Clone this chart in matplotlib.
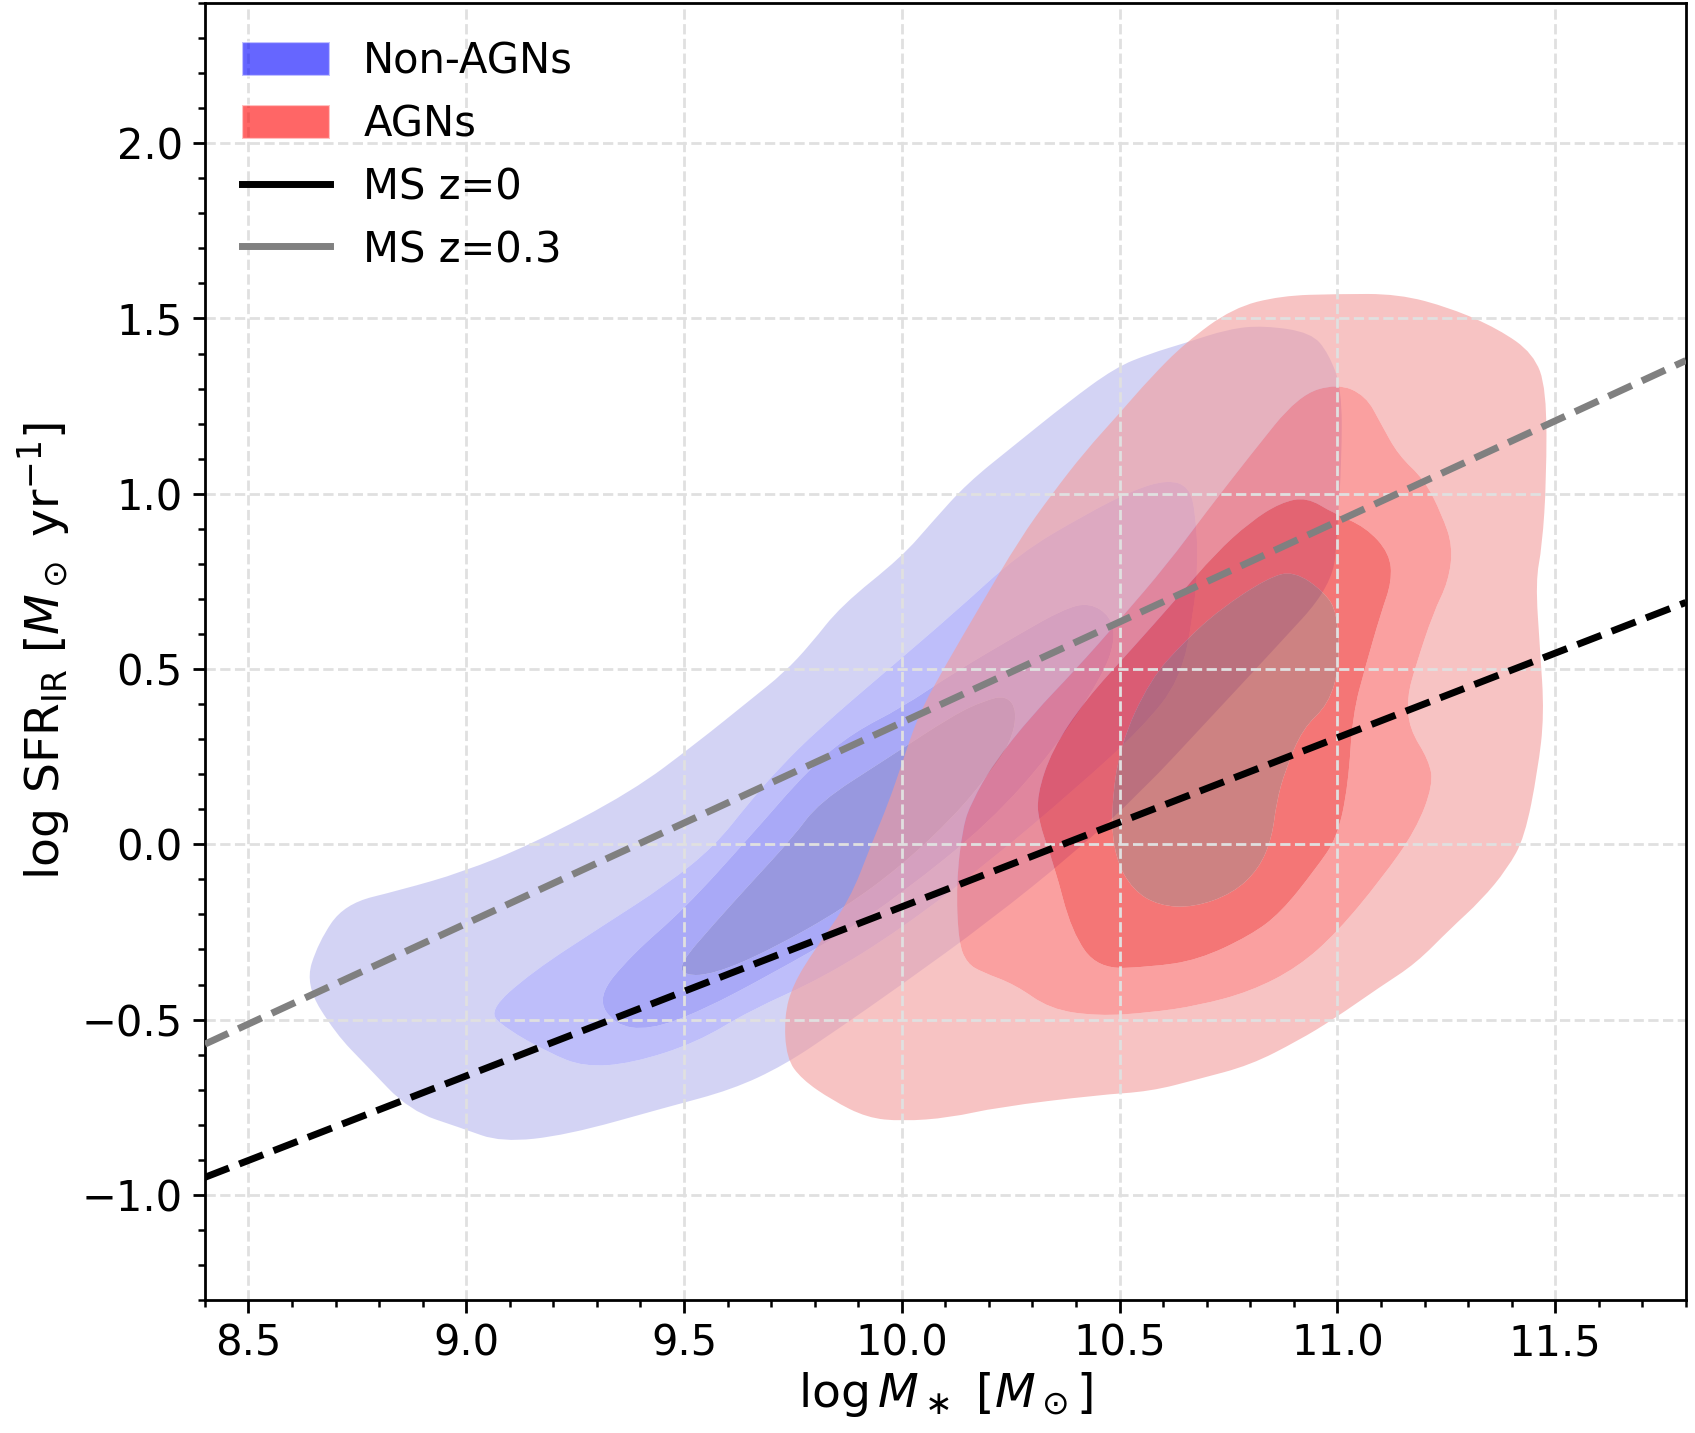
import numpy as np
import matplotlib
matplotlib.use("Agg")
import matplotlib.pyplot as plt
from matplotlib.path import Path
from matplotlib.patches import PathPatch, Patch
from matplotlib.lines import Line2D
from matplotlib.ticker import MultipleLocator

#- KDE contour outlines: (log M*, log SFR_IR), outer -> inner
non_agn_1 = [(8.63, -0.40), (8.66, -0.28), (8.72, -0.17), (8.85, -0.13), (8.99, -0.08),
             (9.15, 0.00), (9.38, 0.15), (9.53, 0.29), (9.65, 0.41), (9.73, 0.49),
             (9.79, 0.57), (9.86, 0.68), (10.0, 0.82), (10.07, 0.92), (10.15, 1.03),
             (10.26, 1.14), (10.38, 1.26), (10.49, 1.36), (10.57, 1.40), (10.65, 1.43),
             (10.75, 1.47), (10.83, 1.48), (10.94, 1.46), (10.98, 1.40), (11.01, 1.30),
             (11.01, 1.10), (11.0, 0.90), (10.99, 0.74), (10.85, 0.55), (10.70, 0.35),
             (10.55, 0.15), (10.40, -0.02), (10.2, -0.22), (10.0, -0.40), (9.85, -0.53),
             (9.73, -0.63), (9.61, -0.70), (9.46, -0.75), (9.23, -0.83), (9.08, -0.85),
             (8.99, -0.81), (8.87, -0.76), (8.77, -0.63), (8.70, -0.54)]
non_agn_2 = [(9.05, -0.475), (9.15, -0.365), (9.31, -0.235), (9.46, -0.115), (9.57, -0.005),
             (9.65, 0.12), (9.72, 0.22), (9.81, 0.33), (9.96, 0.49), (10.12, 0.66),
             (10.27, 0.83), (10.42, 0.94), (10.53, 1.01), (10.61, 1.04), (10.66, 1.02),
             (10.675, 0.94), (10.68, 0.80), (10.67, 0.66), (10.64, 0.47),
             (10.55, 0.33), (10.40, 0.16), (10.2, -0.05), (10.0, -0.24), (9.82, -0.38),
             (9.65, -0.475), (9.53, -0.565), (9.38, -0.625), (9.27, -0.635), (9.19, -0.595),
             (9.09, -0.525)]
non_agn_3 = [(9.30, -0.435), (9.38, -0.315), (9.50, -0.185), (9.65, 0.02), (9.79, 0.22),
             (9.89, 0.32), (10.0, 0.39), (10.12, 0.49), (10.27, 0.60), (10.37, 0.67),
             (10.43, 0.69), (10.48, 0.65), (10.49, 0.58), (10.46, 0.48), (10.35, 0.27),
             (10.2, 0.06), (10.0, -0.14), (9.87, -0.25), (9.70, -0.37), (9.54, -0.475),
             (9.42, -0.53), (9.34, -0.515)]
non_agn_4 = [(9.49, -0.34), (9.57, -0.225), (9.65, -0.115), (9.75, 0.02), (9.81, 0.12),
             (9.96, 0.24), (10.12, 0.37), (10.19, 0.41), (10.24, 0.425), (10.265, 0.38),
             (10.25, 0.29), (10.2, 0.20), (10.12, 0.08), (10.0, -0.06), (9.87, -0.18),
             (9.70, -0.30), (9.57, -0.37), (9.50, -0.375)]

agn_1 = [(10.65, 1.43), (10.76, 1.53), (10.87, 1.565), (11.0, 1.57), (11.14, 1.57),
         (11.26, 1.53), (11.37, 1.47), (11.45, 1.40), (11.48, 1.30), (11.48, 1.04),
         (11.47, 0.85), (11.455, 0.75), (11.465, 0.56), (11.475, 0.37), (11.46, 0.21),
         (11.43, 0.02), (11.39, -0.07), (11.33, -0.16), (11.26, -0.24), (11.18, -0.34),
         (11.10, -0.405), (10.99, -0.50), (10.91, -0.56), (10.80, -0.63), (10.68, -0.67),
         (10.57, -0.705), (10.45, -0.715), (10.22, -0.75), (10.11, -0.78), (10.0, -0.79),
         (9.92, -0.78), (9.84, -0.73), (9.77, -0.67), (9.735, -0.61), (9.73, -0.49),
         (9.75, -0.40), (9.80, -0.30), (9.88, -0.16), (9.93, 0.0), (9.97, 0.12),
         (10.0, 0.23), (10.04, 0.375), (10.10, 0.51), (10.18, 0.68), (10.27, 0.87),
         (10.345, 1.0), (10.42, 1.12), (10.50, 1.23), (10.57, 1.33)]
agn_2 = [(10.91, 1.28), (11.0, 1.315), (11.065, 1.28), (11.10, 1.20), (11.14, 1.11),
         (11.20, 1.04), (11.24, 0.94), (11.265, 0.85), (11.255, 0.75), (11.22, 0.66),
         (11.18, 0.51), (11.16, 0.42), (11.165, 0.33), (11.21, 0.24), (11.22, 0.17),
         (11.18, 0.04), (11.10, -0.10), (11.0, -0.25), (10.91, -0.35), (10.80, -0.42),
         (10.68, -0.46), (10.57, -0.48), (10.45, -0.49), (10.34, -0.47), (10.26, -0.40),
         (10.185, -0.365), (10.15, -0.34), (10.13, -0.28), (10.125, -0.11), (10.14, 0.05),
         (10.16, 0.12), (10.21, 0.23), (10.30, 0.37), (10.40, 0.50), (10.50, 0.64),
         (10.61, 0.80), (10.70, 0.95), (10.80, 1.11)]
agn_3 = [(10.87, 0.975), (10.93, 0.99), (10.99, 0.945), (11.065, 0.905), (11.12, 0.83),
         (11.125, 0.75), (11.10, 0.66), (11.065, 0.51), (11.035, 0.37), (11.025, 0.17),
         (11.0, 0.02), (10.95, -0.07), (10.87, -0.195), (10.80, -0.26), (10.68, -0.33),
         (10.57, -0.35), (10.45, -0.355), (10.39, -0.25), (10.35, -0.06), (10.315, 0.06),
         (10.31, 0.14), (10.345, 0.27), (10.42, 0.41), (10.53, 0.56), (10.63, 0.70),
         (10.72, 0.83), (10.80, 0.92)]
agn_4 = [(10.84, 0.76), (10.90, 0.78), (10.97, 0.72), (11.0, 0.66), (11.005, 0.51),
         (10.98, 0.40), (10.92, 0.33), (10.88, 0.21), (10.86, 0.12), (10.85, 0.02),
         (10.82, -0.07), (10.76, -0.14), (10.67, -0.18), (10.59, -0.175), (10.53, -0.13),
         (10.49, -0.04), (10.48, 0.09), (10.50, 0.28), (10.57, 0.47), (10.65, 0.58),
         (10.73, 0.67)]

#- main sequence lines, ends at the axis limits
ms_x = [8.4, 11.8]
ms_z0_y = [-0.95, 0.69]
ms_z03_y = [-0.57, 1.38]

non_agn_colors = ["#b6b6ee", "#9494f8", "#7070f2", "#5353ca"]
agn_colors = ["#f39b9b", "#f86161", "#ee1b1b", "#ac2f2f"]


def ring(pts, ccw=True):
    # closed smooth outline (quadratic b-spline through the traced points)
    p = np.asarray(pts, float)
    area = np.sum(p[:, 0]*np.roll(p[:, 1], -1) - np.roll(p[:, 0], -1)*p[:, 1])
    if (area > 0) != ccw:
        p = p[::-1]
    mid = (p + np.roll(p, -1, axis=0))/2
    verts = [mid[-1]]
    codes = [Path.MOVETO]
    for i in range(len(p)):
        verts += [p[i], mid[i]]
        codes += [Path.CURVE3, Path.CURVE3]
    verts.append(mid[-1])
    codes.append(Path.CLOSEPOLY)
    return verts, codes


def draw_levels(ax, levels, colors):
    for i, lvl in enumerate(levels):
        v, c = ring(lvl, True)
        if i + 1 < len(levels):
            v2, c2 = ring(levels[i+1], False)
            v, c = v + v2, c + c2
        ax.add_patch(PathPatch(Path(v, c), facecolor=colors[i], edgecolor="none",
                               alpha=0.6, zorder=1))


fig = plt.figure(figsize=(8.475, 7.165), dpi=200)
ax = fig.add_axes([0.1209, 0.0928, 0.8737, 0.9051])

draw_levels(ax, [non_agn_1, non_agn_2, non_agn_3, non_agn_4], non_agn_colors)
draw_levels(ax, [agn_1, agn_2, agn_3, agn_4], agn_colors)

ax.plot(ms_x, ms_z0_y, color="black", ls="--", lw=2.5, zorder=3)
ax.plot(ms_x, ms_z03_y, color="gray", ls="--", lw=2.5, zorder=3)

ax.set_xlim(8.4, 11.8)
ax.set_ylim(-1.3, 2.4)
ax.xaxis.set_major_locator(MultipleLocator(0.5))
ax.xaxis.set_minor_locator(MultipleLocator(0.1))
ax.yaxis.set_major_locator(MultipleLocator(0.5))
ax.yaxis.set_minor_locator(MultipleLocator(0.1))
ax.tick_params(which="major", length=4.5, width=1.0, labelsize=15)
ax.tick_params(which="minor", length=2.5, width=0.9)
ax.grid(True, which="major", ls="--", lw=1.0, color="#e0e0e0", zorder=0)
for s in ax.spines.values():
    s.set_linewidth(1.0)

ax.set_xlabel(r"$\log M_\ast\ [M_\odot]$", fontsize=17, labelpad=2)
ax.set_ylabel(r"$\log\,\mathrm{SFR}_\mathrm{IR}\ [M_\odot\ \mathrm{yr}^{-1}]$", fontsize=17,
              labelpad=3)

handles = [Patch(facecolor="blue", alpha=0.6, edgecolor=(1, 1, 1, 0.35), lw=0.8),
           Patch(facecolor="red", alpha=0.6, edgecolor=(1, 1, 1, 0.35), lw=0.8),
           Line2D([], [], color="black", lw=2.5),
           Line2D([], [], color="gray", lw=2.5)]
labels = ["Non-AGNs", "AGNs", "MS z=0", "MS z=0.3"]
ax.legend(handles, labels, loc="upper left", frameon=False, fontsize=15,
          handlelength=2.1, handleheight=0.85)

fig.savefig("out.png", dpi=200)
